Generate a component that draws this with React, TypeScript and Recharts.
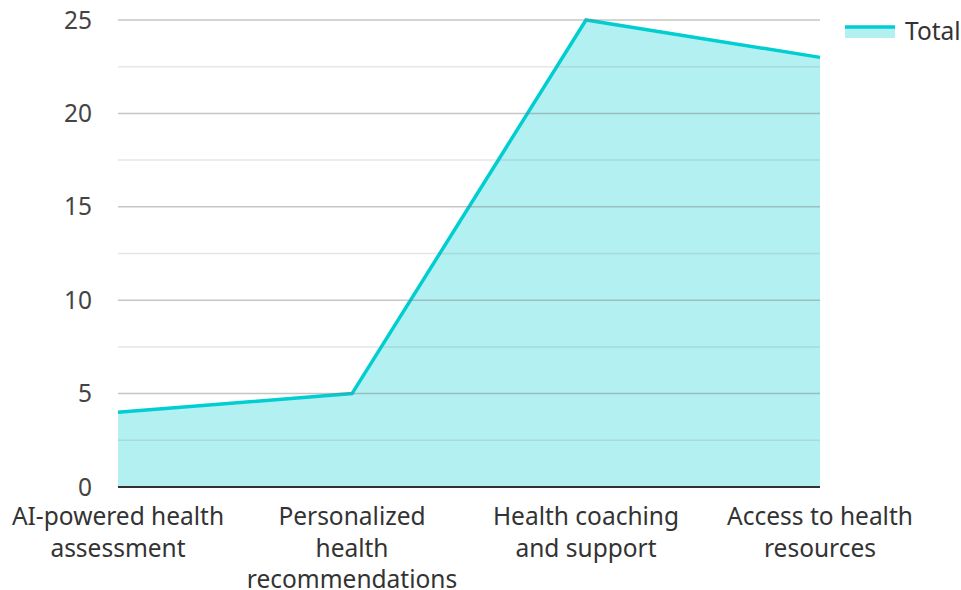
import React from 'react';
import { AreaChart, Area, XAxis, YAxis, ReferenceLine } from 'recharts';

const categories = [
  'AI-powered health assessment',
  'Personalized health recommendations',
  'Health coaching and support',
  'Access to health resources',
];
const totalValues = [4, 5, 25, 23];
const majorTicks = [0, 5, 10, 15, 20, 25];
const minorTicks = [2.5, 7.5, 12.5, 17.5, 22.5];
const seriesName = 'Total';

const data = categories.map((c, i) => ({ category: c, total: totalValues[i] }));

const FONT = '"Noto Sans", "Open Sans", sans-serif';
const FONT_SIZE = 24.5;
const LINE = '#00CED1';

let ctx: CanvasRenderingContext2D | null = null;
function measure(s: string): number {
  if (!ctx) {
    const c = document.createElement('canvas');
    ctx = c.getContext('2d');
  }
  if (!ctx) return s.length * FONT_SIZE * 0.55;
  ctx.font = `${FONT_SIZE}px "Noto Sans"`;
  return ctx.measureText(s).width;
}

function wrap(text: string, maxW: number): string[] {
  const words = text.split(' ');
  const lines: string[] = [];
  let cur = '';
  for (const w of words) {
    const cand = cur ? cur + ' ' + w : w;
    if (cur && measure(cand) > maxW) {
      lines.push(cur);
      cur = w;
    } else {
      cur = cand;
    }
  }
  if (cur) lines.push(cur);
  return lines;
}

const XTick = (props: any) => {
  const { x, y, payload } = props;
  const lines = wrap(String(payload.value), 222);
  return (
    <text
      x={x}
      y={y + 13}
      textAnchor="middle"
      fontFamily={FONT}
      fontSize={FONT_SIZE}
      fill="#333333"
    >
      {lines.map((l, i) => (
        <tspan key={i} x={x} dy={i === 0 ? '0.71em' : 31.5}>
          {l}
        </tspan>
      ))}
    </text>
  );
};

const LegendBox = () => (
  <div style={{ position: 'absolute', left: 845, top: 14, display: 'flex', alignItems: 'center', fontFamily: FONT, fontSize: FONT_SIZE, color: '#333333' }}>
    <svg width={50} height={14} style={{ marginRight: 10 }}>
      <rect x={0} y={2} width={50} height={12} fill={LINE} fillOpacity={0.3} />
      <line x1={0} y1={3} x2={50} y2={3} stroke={LINE} strokeWidth={3.5} />
    </svg>
    <span>{seriesName}</span>
  </div>
);

export default function App() {
  return (
    <div style={{ position: 'absolute', left: 0, top: 0, width: 961, height: 590, background: '#fff' }}>
      <AreaChart width={961} height={590} data={data} margin={{ top: 20, right: 141, bottom: 0, left: 0 }}>
        <XAxis
          dataKey="category"
          height={103}
          tickLine={false}
          axisLine={{ stroke: '#333333', strokeWidth: 2 }}
          interval={0}
          tick={<XTick />}
        />
        <YAxis
          width={118}
          domain={[0, 25]}
          ticks={majorTicks}
          axisLine={false}
          tickLine={false}
          tickSize={6}
          tickMargin={20}
          tick={{ fontFamily: FONT, fontSize: FONT_SIZE, fill: '#444444' }}
        />
        <Area
          type="linear"
          dataKey="total"
          name={seriesName}
          stroke={LINE}
          strokeWidth={3.5}
          fill={LINE}
          fillOpacity={0.3}
          isAnimationActive={false}
          dot={false}
          activeDot={false}
        />
        {minorTicks.map((v) => (
          <ReferenceLine key={'m' + v} y={v} stroke="#808080" strokeOpacity={0.2} strokeWidth={1.5} />
        ))}
        {majorTicks.filter((v) => v !== 0).map((v) => (
          <ReferenceLine key={'M' + v} y={v} stroke="#808080" strokeOpacity={0.45} strokeWidth={1.5} />
        ))}
      </AreaChart>
      <LegendBox />
    </div>
  );
}
